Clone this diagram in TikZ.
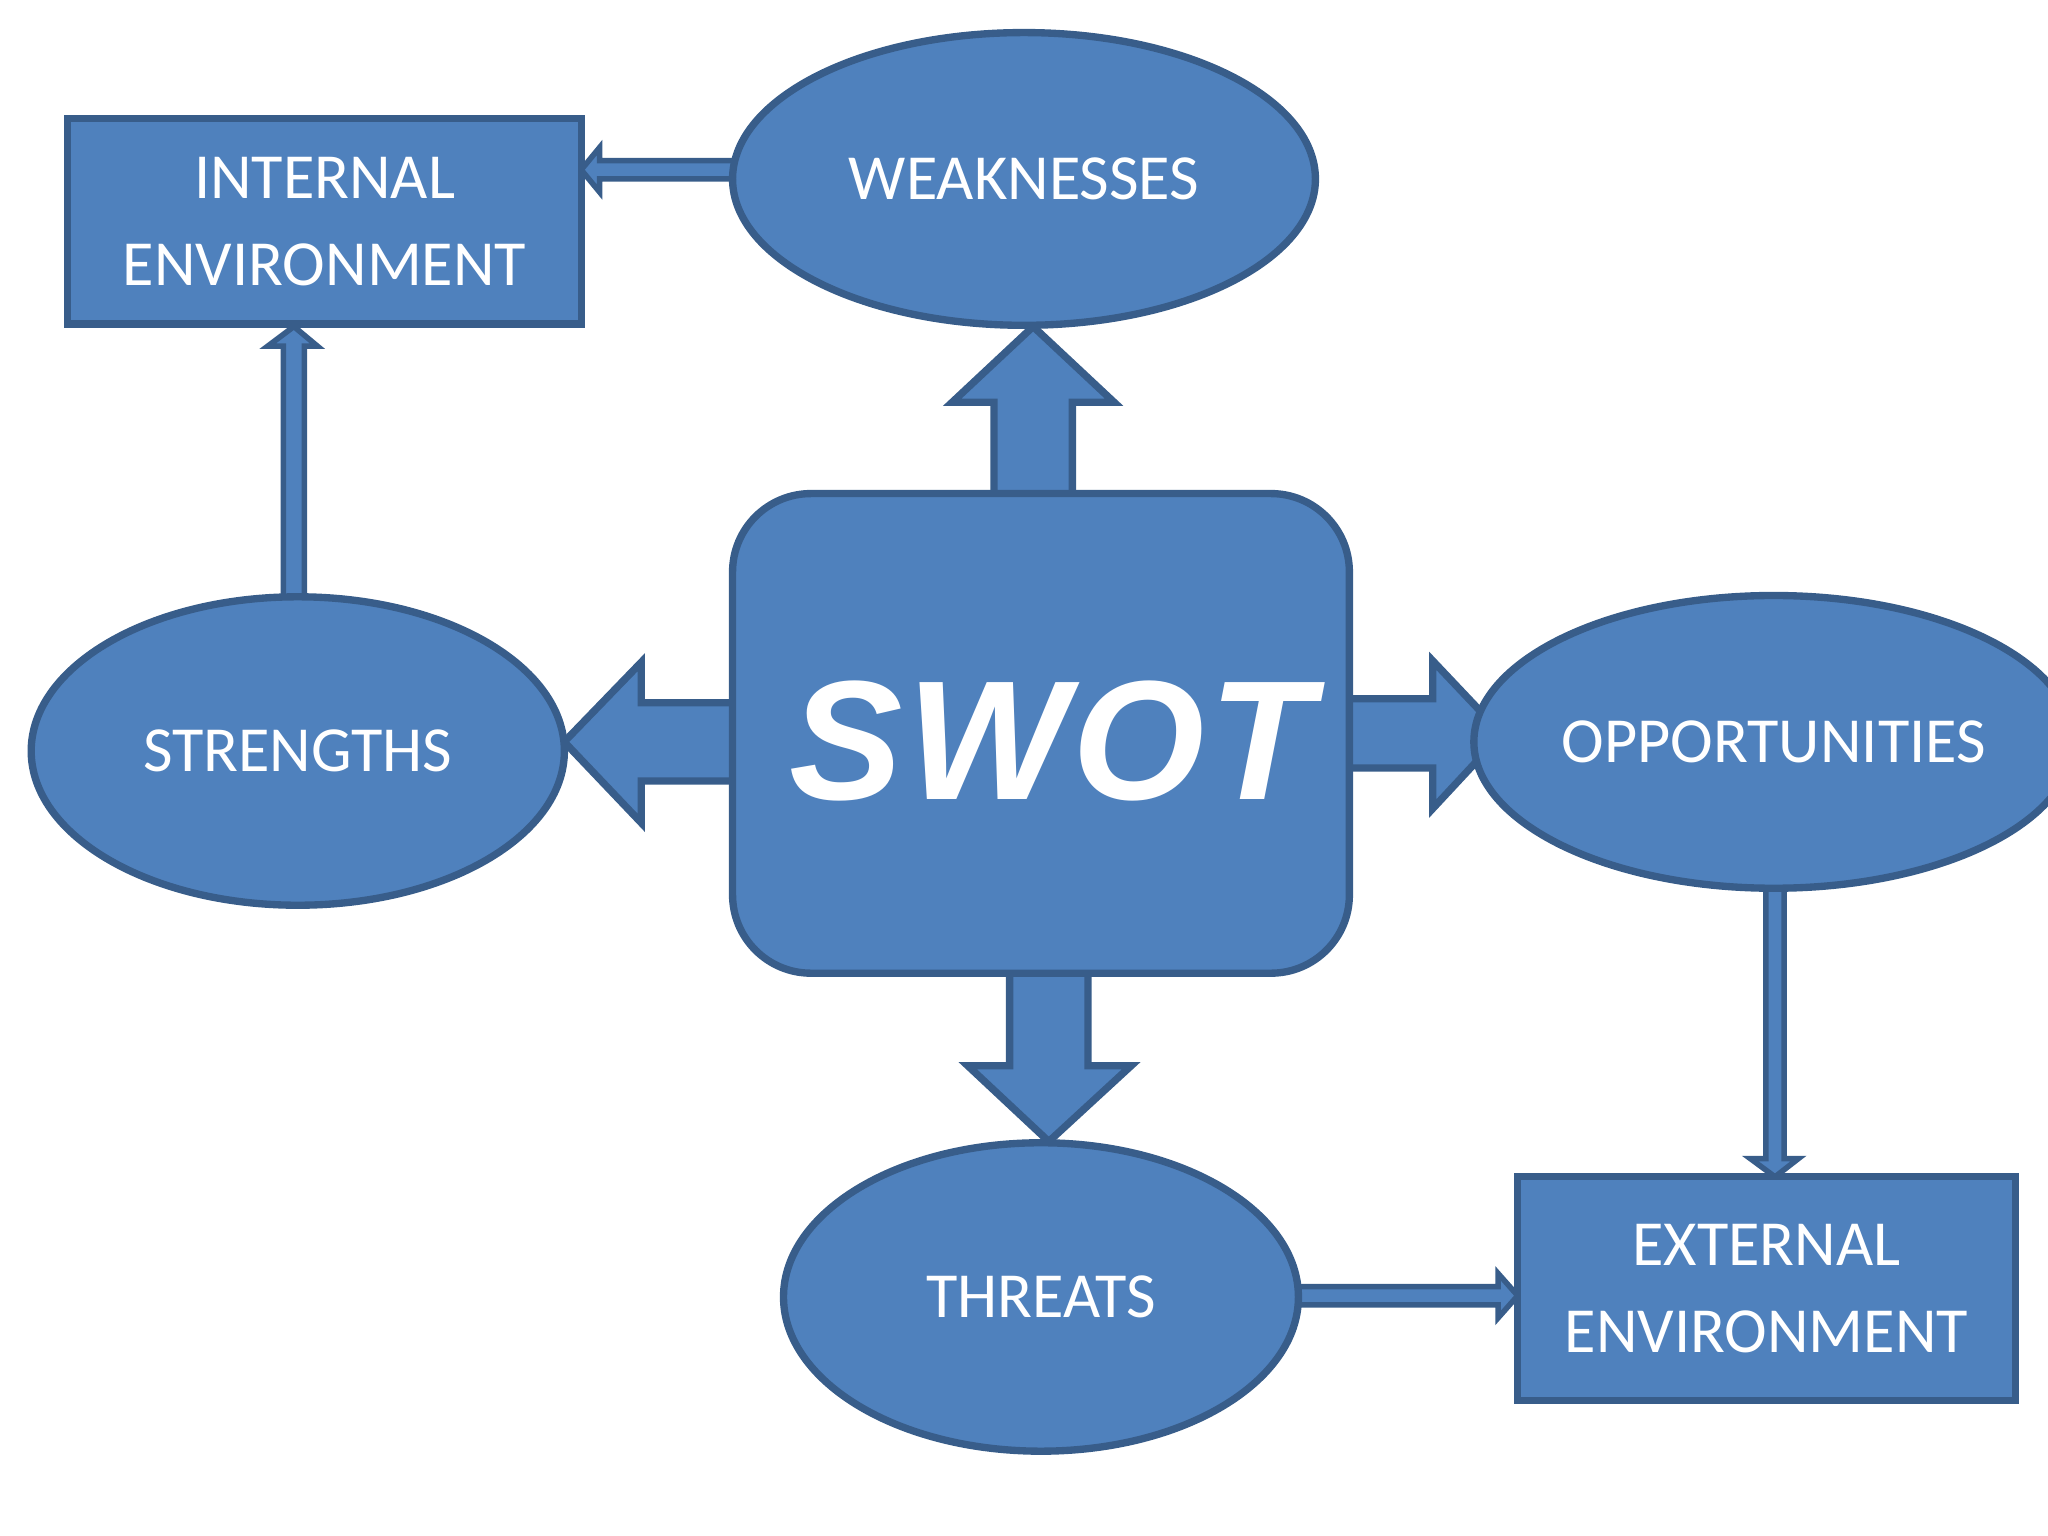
\documentclass[tikz,border=0pt]{standalone}
\usepackage{fontspec}
\setmainfont{Carlito}
\newfontfamily\swotfont{Liberation Sans}
\usetikzlibrary{shapes.geometric}
\definecolor{fillb}{HTML}{4F81BD}
\definecolor{edgeb}{HTML}{385D8A}
\begin{document}
\begin{tikzpicture}[x=0.01cm,y=-0.01cm,
  shp/.style={fill=fillb,draw=edgeb,line width=1.6pt},
  lbl/.style={text=white,font=\fontsize{14}{19}\selectfont,align=center,inner sep=0},
  ell/.style={shp,ellipse,lbl}]
\useasboundingbox (0,0) rectangle (1568,1176);
% block arrows
\draw[shp] (761,380)--(761,308)--(729,308)--(791,250)--(853,308)--(821,308)--(821,380)--cycle;
\draw[shp] (563,538)--(491,538)--(491,507)--(432,568)--(491,630)--(491,598)--(563,598)--cycle;
\draw[shp] (1031,535)--(1097,535)--(1097,506)--(1150,562)--(1097,619)--(1097,588)--(1031,588)--cycle;
\draw[shp] (773,743)--(773,816)--(741,816)--(803,874)--(866,816)--(833,816)--(833,743)--cycle;
% thin arrows
\draw[shp,line width=1.2pt] (563,123)--(459,123)--(459,113)--(445,130)--(459,147)--(459,137)--(563,137)--cycle;
\draw[shp,line width=1.2pt] (217,459)--(217,265)--(205,265)--(225,250)--(243,265)--(233,265)--(233,459)--cycle;
\draw[shp,line width=1.2pt] (1352,679)--(1352,887)--(1340,887)--(1359,901)--(1377,887)--(1366,887)--(1366,679)--cycle;
\draw[shp,line width=1.2pt] (993,985)--(1147,985)--(1147,975)--(1162,992)--(1147,1009)--(1147,999)--(993,999)--cycle;
% nodes
\node[ell,minimum width=4.46cm,minimum height=2.24cm] (weak) at (784,137) {WEAKNESSES};
\node[ell,minimum width=4.08cm,minimum height=2.36cm] (str) at (228,575) {STRENGTHS};
\node[ell,minimum width=4.18cm,minimum height=2.24cm] (opp) at (1358,568) {OPPORTUNITIES};
\node[ell,minimum width=3.94cm,minimum height=2.36cm] (thr) at (797,993) {THREATS};
\node[shp,lbl,minimum width=3.93cm,minimum height=1.57cm] (int) at (248.5,169.5) {INTERNAL\\ENVIRONMENT};
\node[shp,lbl,minimum width=3.81cm,minimum height=1.71cm] (ext) at (1352.5,986.5) {EXTERNAL\\ENVIRONMENT};
\node[shp,rounded corners=0.6cm,minimum width=4.72cm,minimum height=3.67cm] (swot) at (797,561.5) {};
\node[text=white,font=\swotfont\bfseries\itshape\fontsize{37}{40}\selectfont] at (805,567) {S\kern1pt W\kern1pt O\kern1pt T};
\end{tikzpicture}
\end{document}
